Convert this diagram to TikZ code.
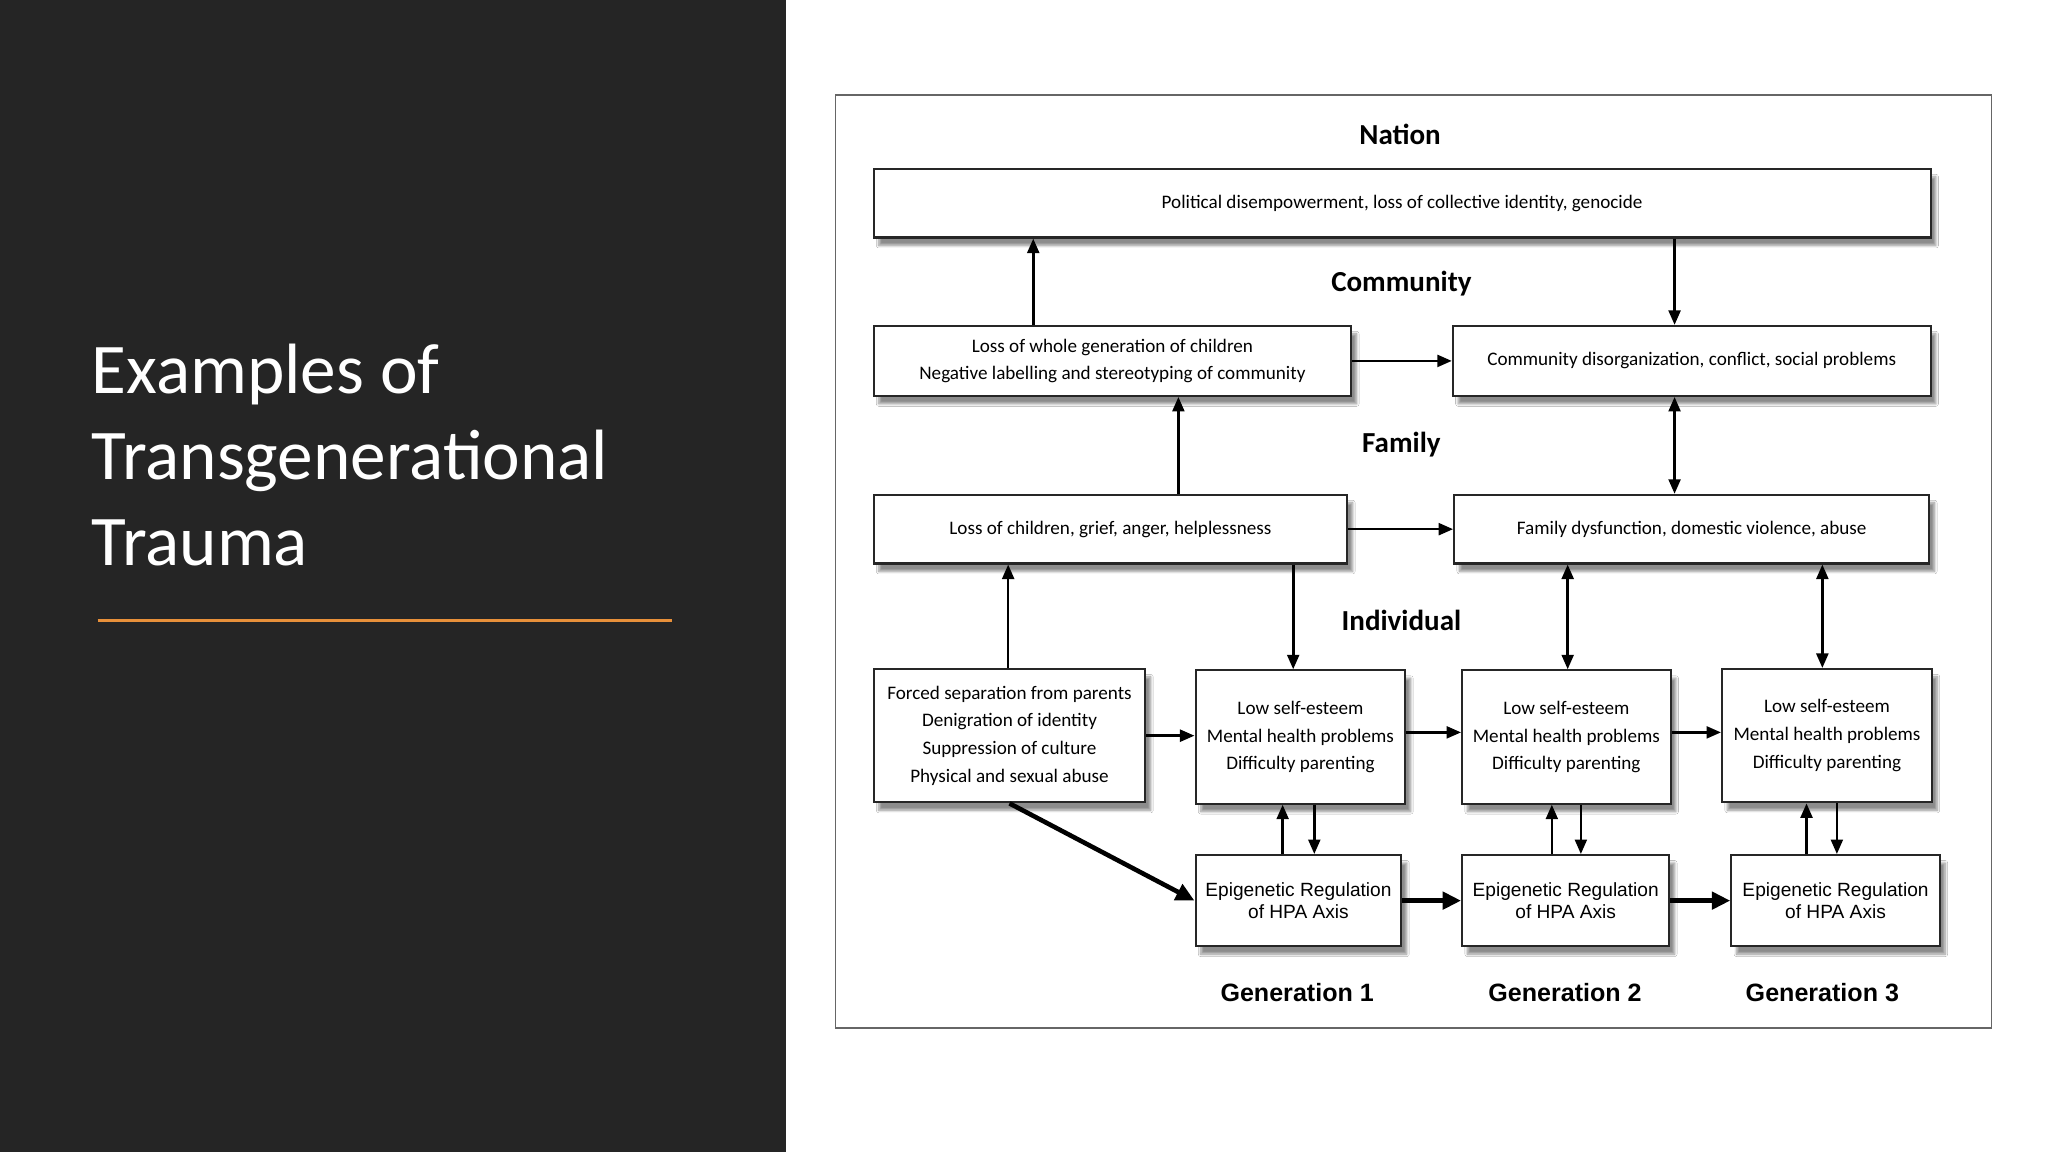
\documentclass[tikz,border=0pt]{standalone}
\usepackage{fontspec}
\setmainfont{Carlito}
\newfontfamily\arial{Liberation Sans}
\usetikzlibrary{shadows.blur,arrows.meta}
\definecolor{panel}{HTML}{252525}
\definecolor{accent}{HTML}{E8903A}
\newcommand{\bx}[6]{\node[bx,minimum width={#4-#2},minimum height={#5-#3}] (#1) at ({(#2+#4)/2},{(#3+#5)/2}) {#6};}
\tikzset{
 bx/.style={draw=black!85,line width=1.6pt,fill=white,inner sep=0pt,align=center,font=\fontsize{14.5}{21}\selectfont,
   blur shadow={shadow xshift=4pt,shadow yshift=-6pt,shadow blur steps=8,shadow opacity=45}},
 epi/.style={font=\arial\fontsize{14}{17}\selectfont},
 lvl/.style={font=\bfseries\fontsize{22}{24}\selectfont},
 gen/.style={font=\arial\bfseries\fontsize{19}{22}\selectfont},
 ar/.style={line width=2pt,-{Triangle[length=11pt,width=9pt]}},
 dar/.style={line width=2pt,{Triangle[length=11pt,width=9pt]}-{Triangle[length=11pt,width=9pt]}},
 tar/.style={line width=3.5pt,-{Triangle[length=14pt,width=13pt]}}
}
\begin{document}
\begin{tikzpicture}[x=1pt,y=-1pt]
\useasboundingbox (0,0) rectangle (1552,873);
\fill[white] (0,0) rectangle (1552,873);
\fill[panel] (0,0) rectangle (596,873);
\node[anchor=west,text=white,align=left,font=\fontsize{54}{65}\selectfont] (title) at (66,345) {Examples of\\Transgenerational\\Trauma};
\draw[accent,line width=2.5pt] (74,470) coordinate (o1) -- (509,470) coordinate (o2);
\draw[black!60,line width=1pt] (633,72) rectangle (1509,779);
\node[lvl] (lnation) at (1061,102) {Nation};
\node[lvl] (lcomm) at (1062,215) {Community};
\node[lvl] (lfam) at (1062,337) {Family};
\node[lvl] (lind) at (1062,470) {Individual};
\bx{nat}{662}{128}{1463}{180}{Political disempowerment, loss of collective identity, genocide}
\bx{lwg}{662}{247}{1024}{300}{Loss of whole generation of children\\Negative labelling and stereotyping of community}
\bx{cd}{1101}{247}{1463}{300}{Community disorganization, conflict, social problems}
\bx{lc}{662}{375}{1021}{427}{Loss of children, grief, anger, helplessness}
\bx{fd}{1102}{375}{1462}{427}{Family dysfunction, domestic violence, abuse}
\bx{fs}{662}{507}{868}{608}{Forced separation from parents\\Denigration of identity\\Suppression of culture\\Physical and sexual abuse}
\bx{l1}{906}{508}{1065}{609}{Low self-esteem\\Mental health problems\\Difficulty parenting}
\bx{l2}{1108}{508}{1266}{609}{Low self-esteem\\Mental health problems\\Difficulty parenting}
\bx{l3}{1305}{507}{1464}{608}{Low self-esteem\\Mental health problems\\Difficulty parenting}
\bx{e1}{906}{648}{1062}{717}{\arial Epigenetic Regulation\\[-4pt]\arial of HPA Axis}
\bx{e2}{1108}{648}{1265}{717}{\arial Epigenetic Regulation\\[-4pt]\arial of HPA Axis}
\bx{e3}{1312}{648}{1470}{717}{\arial Epigenetic Regulation\\[-4pt]\arial of HPA Axis}
\node[gen] (g1) at (983,752) {Generation 1};
\node[gen] (g2) at (1186,752) {Generation 2};
\node[gen] (g3) at (1381,752) {Generation 3};
% arrows
\draw[ar] (lwg.north -| 783,0) -- (nat.south -| 783,0);
\draw[ar] (nat.south -| 1269,0) -- (cd.north -| 1269,0);
\draw[ar] (lwg.east) -- (cd.west);
\draw[dar] (cd.south -| 1269,0) -- (fd.north -| 1269,0);
\draw[ar] (lc.north -| 893,0) -- (lwg.south -| 893,0);
\draw[ar] (lc.east) -- (fd.west);
\draw[ar] (lc.south -| 980,0) -- (l1.north -| 980,0);
\draw[dar] (fd.south -| 1188,0) -- (l2.north -| 1188,0);
\draw[dar] (fd.south -| 1381,0) -- (l3.north -| 1381,0);
\draw[ar] (fs.north -| 764,0) -- (lc.south -| 764,0);
\draw[ar] (fs.east) -- (l1.west |- fs.east);
\draw[ar] (l1.east |- 0,555) -- (l2.west |- 0,555);
\draw[ar] (l2.east |- 0,555) -- (l3.west |- 0,555);
\draw[tar] (fs.south) -- (e1.west);
\draw[tar] (e1.east) -- (e2.west);
\draw[tar] (e2.east) -- (e3.west);
\foreach \l/\e/\u/\d in {l1/e1/972/996,l2/e2/1176/1198,l3/e3/1369/1392}{
 \draw[ar] (\e.north -| \u,0) -- (\l.south -| \u,0);
 \draw[ar] (\l.south -| \d,0) -- (\e.north -| \d,0);
}
\end{tikzpicture}
\end{document}
